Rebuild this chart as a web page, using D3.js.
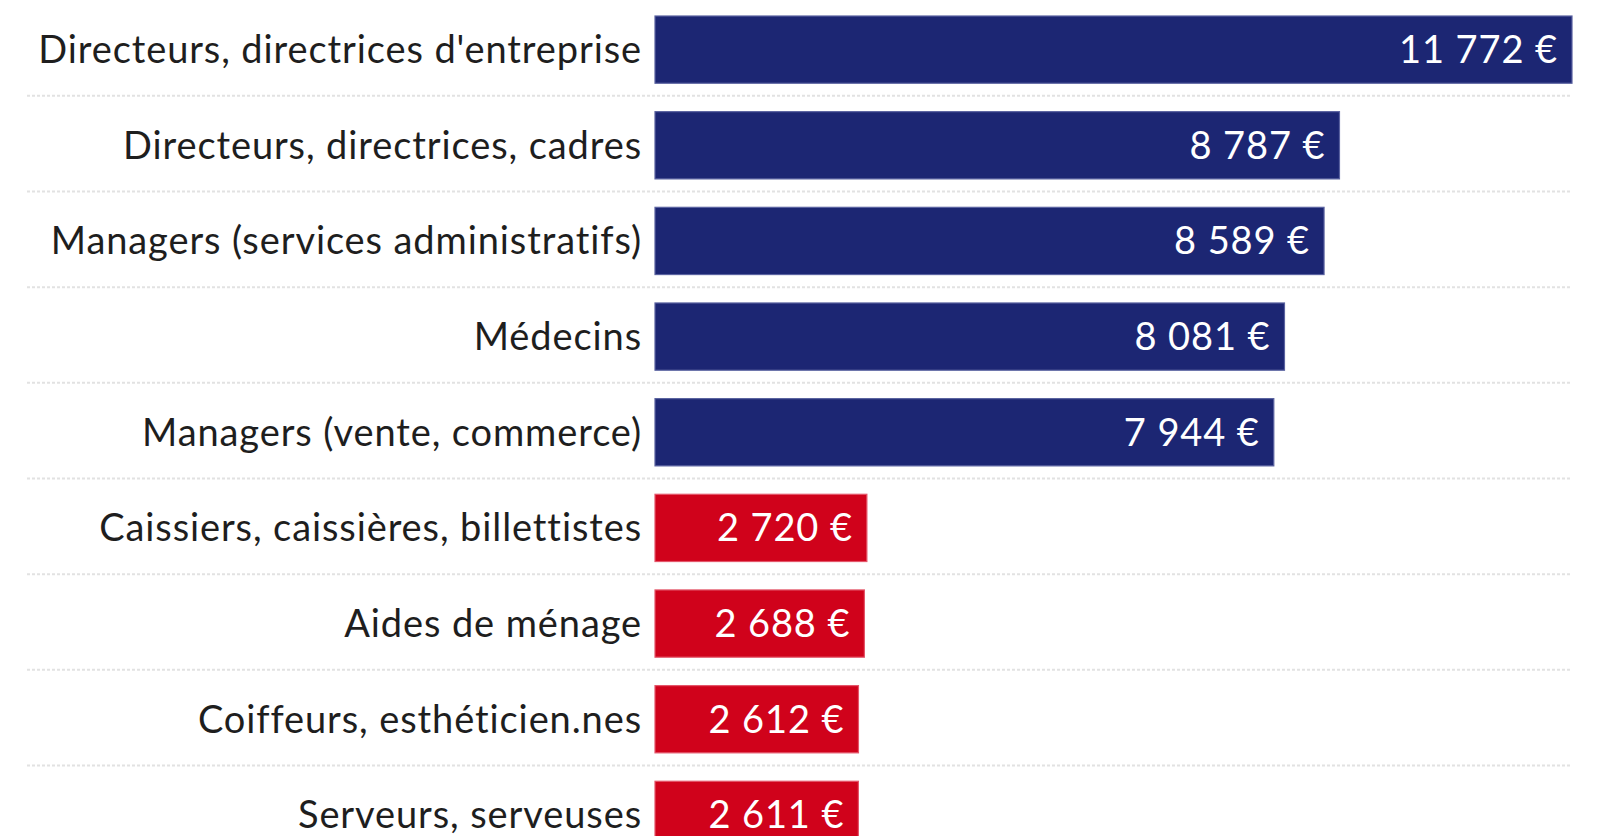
<!DOCTYPE html>
<html>
<head>
<meta charset="utf-8">
<script src="https://cdn.jsdelivr.net/npm/d3@7"></script>
<style>
  html, body { margin: 0; padding: 0; width: 100%; height: 100%; overflow: hidden; background: #fff; }
  svg { display: block; }
</style>
</head>
<body>
<div id="chart"></div>
<script>
// professions and monthly salaries (euros)
const professions = [
  "Directeurs, directrices d'entreprise",
  'Directeurs, directrices, cadres',
  'Managers (services administratifs)',
  'Médecins',
  'Managers (vente, commerce)',
  'Caissiers, caissières, billettistes',
  'Aides de ménage',
  'Coiffeurs, esthéticien.nes',
  'Serveurs, serveuses'
]
const salaries = [11772, 8787, 8589, 8081, 7944, 2720, 2688, 2612, 2611]
// top 5 vs bottom 4
const groups = ['haut', 'haut', 'haut', 'haut', 'haut', 'bas', 'bas', 'bas', 'bas']

const width = 1600
const height = 836
const margin = {top: 16, right: 28, bottom: 0, left: 655}
const innerWidth = width - margin.left - margin.right

const data = professions.map((p, i) => ({ key: p, value: salaries[i], group: groups[i] }))

const color = d3.scaleOrdinal()
  .domain(['haut', 'bas'])
  .range(['#1c2673', '#d0021b'])
// thin lighter edge round the bars
const edge = d3.scaleOrdinal()
  .domain(['haut', 'bas'])
  .range(['#5a62a0', '#e4566a'])

const xScale = d3.scaleLinear()
  .domain([0, d3.max(salaries)])
  .range([0, innerWidth])

const step = 92.5
const yScale = d3.scaleBand()
  .domain(professions)
  .range([0, step * professions.length])
  .paddingInner(0.297)
  .paddingOuter(0)

const fmt = v => d3.format(',')(v).replace(/,/g, ' ') + ' €'

const svg = d3.select('#chart').append('svg')
  .attr('viewBox', `0 0 ${width} ${height}`)
  .attr('preserveAspectRatio', 'none')
  .style('width', '100vw')
  .style('height', '100vh')

const g = svg.append('g')
  .attr('transform', `translate(${margin.left}, ${margin.top})`)

// dotted separators between rows
const sepY = d => yScale(d) + yScale.bandwidth() + (step - yScale.bandwidth()) / 2
g.selectAll('line.sep')
  .data(professions.slice(0, -1))
  .join('line')
    .attr('class', 'sep')
    .attr('x1', 27 - margin.left)
    .attr('x2', innerWidth)
    .attr('y1', sepY)
    .attr('y2', sepY)
    .attr('stroke', '#e2e2e2')
    .attr('stroke-width', 2)
    .attr('stroke-dasharray', '3,2')

const rows = g.selectAll('g.row')
  .data(data)
  .join('g')
    .attr('class', 'row')
    .attr('transform', d => `translate(0, ${yScale(d.key)})`)

rows.append('rect')
  .attr('x', 0)
  .attr('width', d => xScale(d.value))
  .attr('height', yScale.bandwidth())
  .attr('fill', d => color(d.group))
  .attr('stroke', d => edge(d.group))
  .attr('stroke-width', 1.2)

// category labels
rows.append('text')
  .attr('x', -13)
  .attr('y', yScale.bandwidth() / 2)
  .attr('dy', '0.35em')
  .attr('text-anchor', 'end')
  .style('font-family', 'Lato, sans-serif')
  .style('font-size', '38px')
  .style('letter-spacing', '0.9px')
  .style('fill', '#1e1e1e')
  .text(d => d.key)

// value labels inside the bars
rows.append('text')
  .attr('x', d => xScale(d.value) - 14)
  .attr('y', yScale.bandwidth() / 2)
  .attr('dy', '0.35em')
  .attr('text-anchor', 'end')
  .style('font-family', 'Lato, sans-serif')
  .style('font-size', '38px')
  .style('letter-spacing', '0.9px')
  .style('fill', '#fff')
  .text(d => fmt(d.value))
</script>
</body>
</html>
